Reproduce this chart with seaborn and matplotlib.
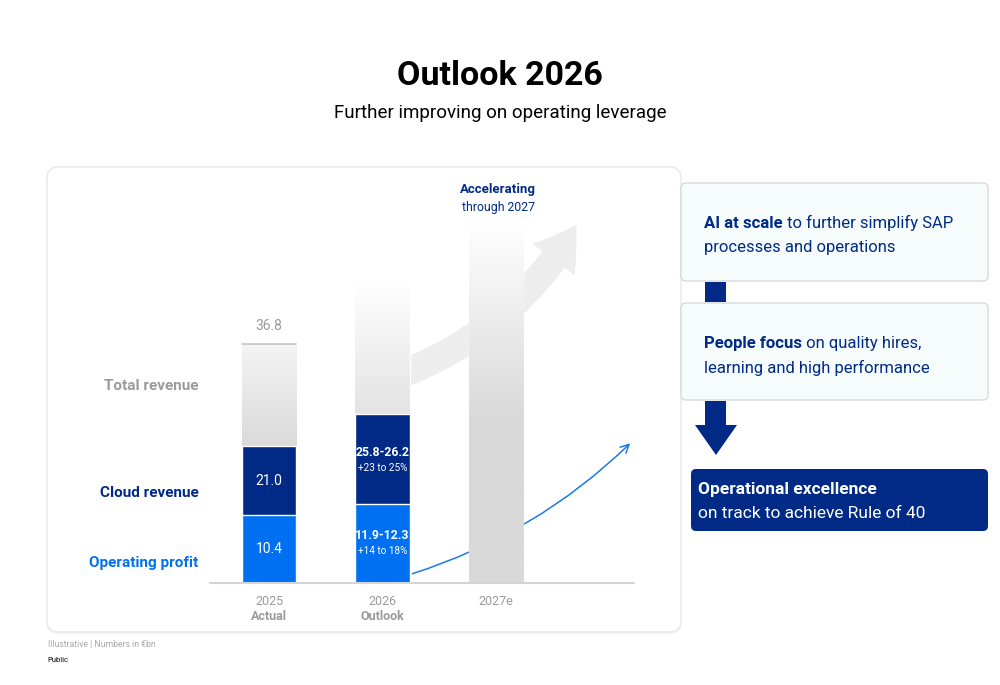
# Outlook 2026 - 매출 / 영업이익 전망 슬라이드 재현

import numpy as np
import matplotlib.pyplot as plt
import seaborn as sns
from matplotlib.patches import FancyBboxPatch, FancyArrowPatch, Rectangle, Polygon
from matplotlib.colors import LinearSegmentedColormap

sns.set_theme(style='white')
plt.rcParams['font.family'] = ['Roboto', 'DejaVu Sans']

# 데이터
years = ['2025', '2026', '2027e']
year_sub = ['Actual', 'Outlook', '']
total_revenue = [36.8]
ghost_top = [36.8, 46.5, 55.8]          # 회색 배경 막대 (illustrative)
cloud_rev = [21.0, 26.0]
cloud_lbl = ['21.0', '25.8-26.2']
cloud_growth = ['', '+23 to 25%']
op_profit = [10.4, 12.1]
op_lbl = ['10.4', '11.9-12.3']
op_growth = ['', '+14 to 18%']

DARK = '#002a86'
BLUE = '#0070f2'
GRAY_TXT = '#9b9b9b'

fig = plt.figure(figsize=(10, 6.85), dpi=100)

# 배경 축 (픽셀 좌표)
bg = fig.add_axes([0, 0, 1, 1])
bg.set_xlim(0, 1000)
bg.set_ylim(685, 0)
bg.axis('off')

# 왼쪽 패널
bg.add_patch(FancyBboxPatch((46, 166), 636, 468, boxstyle='round,pad=0,rounding_size=13',
                            fc='#f3f3f3', ec='none', zorder=0))
bg.add_patch(FancyBboxPatch((47, 167), 634, 465, boxstyle='round,pad=0,rounding_size=12',
                            fc='white', ec='#e9e9e9', lw=1, zorder=1))

bg.text(500, 76, 'Outlook 2026', ha='center', va='center', fontsize=24.5, fontweight='bold', color='black')
bg.text(500, 113, 'Further improving on operating leverage', ha='center', va='center', fontsize=13.5, color='black')

# 오른쪽 박스
for y0, h in [(183, 98), (303, 97)]:
    bg.add_patch(FancyBboxPatch((681, y0), 307, h, boxstyle='round,pad=0,rounding_size=5',
                                fc='#f6fbfc', ec='#dadada', lw=1, zorder=2))
bg.add_patch(Rectangle((705, 282), 21, 20, fc=DARK, ec='none', zorder=2))
bg.add_patch(Polygon([(705, 401), (726, 401), (726, 425), (737, 425), (716, 455),
                      (695, 425), (705, 425)], closed=True, fc=DARK, ec='none', zorder=2))
bg.add_patch(FancyBboxPatch((691, 469), 297, 62, boxstyle='round,pad=0,rounding_size=5',
                            fc=DARK, ec='none', zorder=2))


def two_part(x, y, bold, rest, color, size):
    t = bg.text(x, y, bold, ha='left', va='bottom', fontsize=size, fontweight='bold', color=color, zorder=3)
    bg.annotate(rest, xy=(1, 0), xycoords=t, ha='left', va='bottom', fontsize=size, color=color, zorder=3)


two_part(704, 231, 'AI at scale', ' to further simplify SAP', DARK, 12)
bg.text(704, 255, 'processes and operations', ha='left', va='bottom', fontsize=12, color=DARK)
two_part(704, 351, 'People focus', ' on quality hires,', DARK, 12)
bg.text(704, 376, 'learning and high performance', ha='left', va='bottom', fontsize=12, color=DARK)
bg.text(698, 489, 'Operational excellence', ha='left', va='center', fontsize=12.5, fontweight='bold', color='white')
bg.text(698, 514, 'on track to achieve Rule of 40', ha='left', va='center', fontsize=12.5, color='white')

bg.text(48, 645, 'Illustrative | Numbers in €bn', ha='left', va='center', fontsize=6.2, color='#a8a8a8')
bg.text(47, 660, 'Public', ha='left', va='center', fontsize=5.5, color='black')

# 막대 차트 축
ax = fig.add_axes([47 / 1000, 1 - 632 / 685, 634 / 1000, 465 / 685])
ax.patch.set_alpha(0)

W = 0.476
sns.barplot(x=years, y=ghost_top, order=years, color='white', width=W, saturation=1,
            errorbar=None, ax=ax, zorder=2)
ghost_bars = list(ax.patches)

grad_specs = [('#f4f4f4', '#dadada', 21.0), ('#ffffff', '#e3e3e3', 26.0), ('#ffffff', '#d9d9d9', 25.0)]
for p, (c_top, c_bot, y_solid) in zip(ghost_bars, grad_specs):
    x0, w, top = p.get_x(), p.get_width(), p.get_height()
    yy = np.linspace(0, top, 200)
    frac = np.clip((top - yy) / (top - y_solid), 0, 1)
    cmap = LinearSegmentedColormap.from_list('g', [c_top, c_bot])
    img = ax.imshow(frac[:, None], extent=[x0, x0 + w, 0, top], origin='lower', aspect='auto',
                    cmap=cmap, vmin=0, vmax=1, zorder=2)
    img.set_clip_path(p)
    p.set_facecolor('none')

# 2025 총매출 상단 선
ax.plot([ghost_bars[0].get_x(), ghost_bars[0].get_x() + W], [total_revenue[0]] * 2,
        color='#c4c4c4', lw=1.2, zorder=3)

sns.barplot(x=years[:2], y=cloud_rev, order=years, color=DARK, width=W, saturation=1,
            errorbar=None, ax=ax, zorder=3)
sns.barplot(x=years[:2], y=op_profit, order=years, color=BLUE, width=W, saturation=1,
            errorbar=None, ax=ax, zorder=4)

# 화살표
ax.add_patch(FancyArrowPatch((1.15, 32.0), (2.72, 55.5), connectionstyle='arc3,rad=0.18',
                             arrowstyle='simple,tail_width=20,head_width=38,head_length=30',
                             mutation_scale=1, fc='#ededed', ec='none', zorder=1))
ax.add_patch(FancyArrowPatch((1.24, 1.3), (3.2, 21.8), connectionstyle='arc3,rad=0.12',
                             arrowstyle='->,head_length=6,head_width=3', mutation_scale=1,
                             color='#1a7ae8', lw=1.1, zorder=1))

# 기준선
ax.plot([-0.52, 3.22], [0, 0], color='#d4d4d4', lw=1.5, zorder=5)

# 막대 라벨
ax.text(0, total_revenue[0] + 1.6, f'{total_revenue[0]:.1f}', ha='center', va='bottom', fontsize=10, color=GRAY_TXT)
for i in range(2):
    mid_c = (op_profit[i] + cloud_rev[i]) / 2
    mid_o = op_profit[i] / 2
    if cloud_growth[i]:
        ax.text(i, mid_c + 1.0, cloud_lbl[i], ha='center', va='center', fontsize=8.8, fontweight='bold', color='white', zorder=6)
        ax.text(i, mid_c - 1.4, cloud_growth[i], ha='center', va='center', fontsize=7.2, color='white', zorder=6)
        ax.text(i, mid_o + 1.2, op_lbl[i], ha='center', va='center', fontsize=8.8, fontweight='bold', color='white', zorder=6)
        ax.text(i, mid_o - 1.2, op_growth[i], ha='center', va='center', fontsize=7.2, color='white', zorder=6)
    else:
        ax.text(i, mid_c, cloud_lbl[i], ha='center', va='center', fontsize=10, color='white', zorder=6)
        ax.text(i, mid_o, op_lbl[i], ha='center', va='center', fontsize=10, color='white', zorder=6)

for i, (yr, sub) in enumerate(zip(years, year_sub)):
    ax.text(i, -2.8, yr, ha='center', va='center', fontsize=9, color=GRAY_TXT)
    if sub:
        ax.text(i, -5.2, sub, ha='center', va='center', fontsize=9, fontweight='bold', color=GRAY_TXT)

ax.text(2.02, 60.6, 'Accelerating', ha='center', va='center', fontsize=9.5, fontweight='bold', color=DARK)
ax.text(2.02, 57.7, 'through 2027', ha='center', va='center', fontsize=8.8, color=DARK)

# 왼쪽 시리즈 이름
ax.text(-0.62, 30.3, 'Total revenue', ha='right', va='center', fontsize=11, fontweight='bold', color=GRAY_TXT)
ax.text(-0.62, 13.8, 'Cloud revenue', ha='right', va='center', fontsize=11, fontweight='bold', color=DARK)
ax.text(-0.62, 3.0, 'Operating profit', ha='right', va='center', fontsize=11, fontweight='bold', color=BLUE)

ax.set_xlim(-1.956, 3.63)
ax.set_ylim(-7.54, 64)
ax.axis('off')

fig.savefig('out.png', dpi=100)
